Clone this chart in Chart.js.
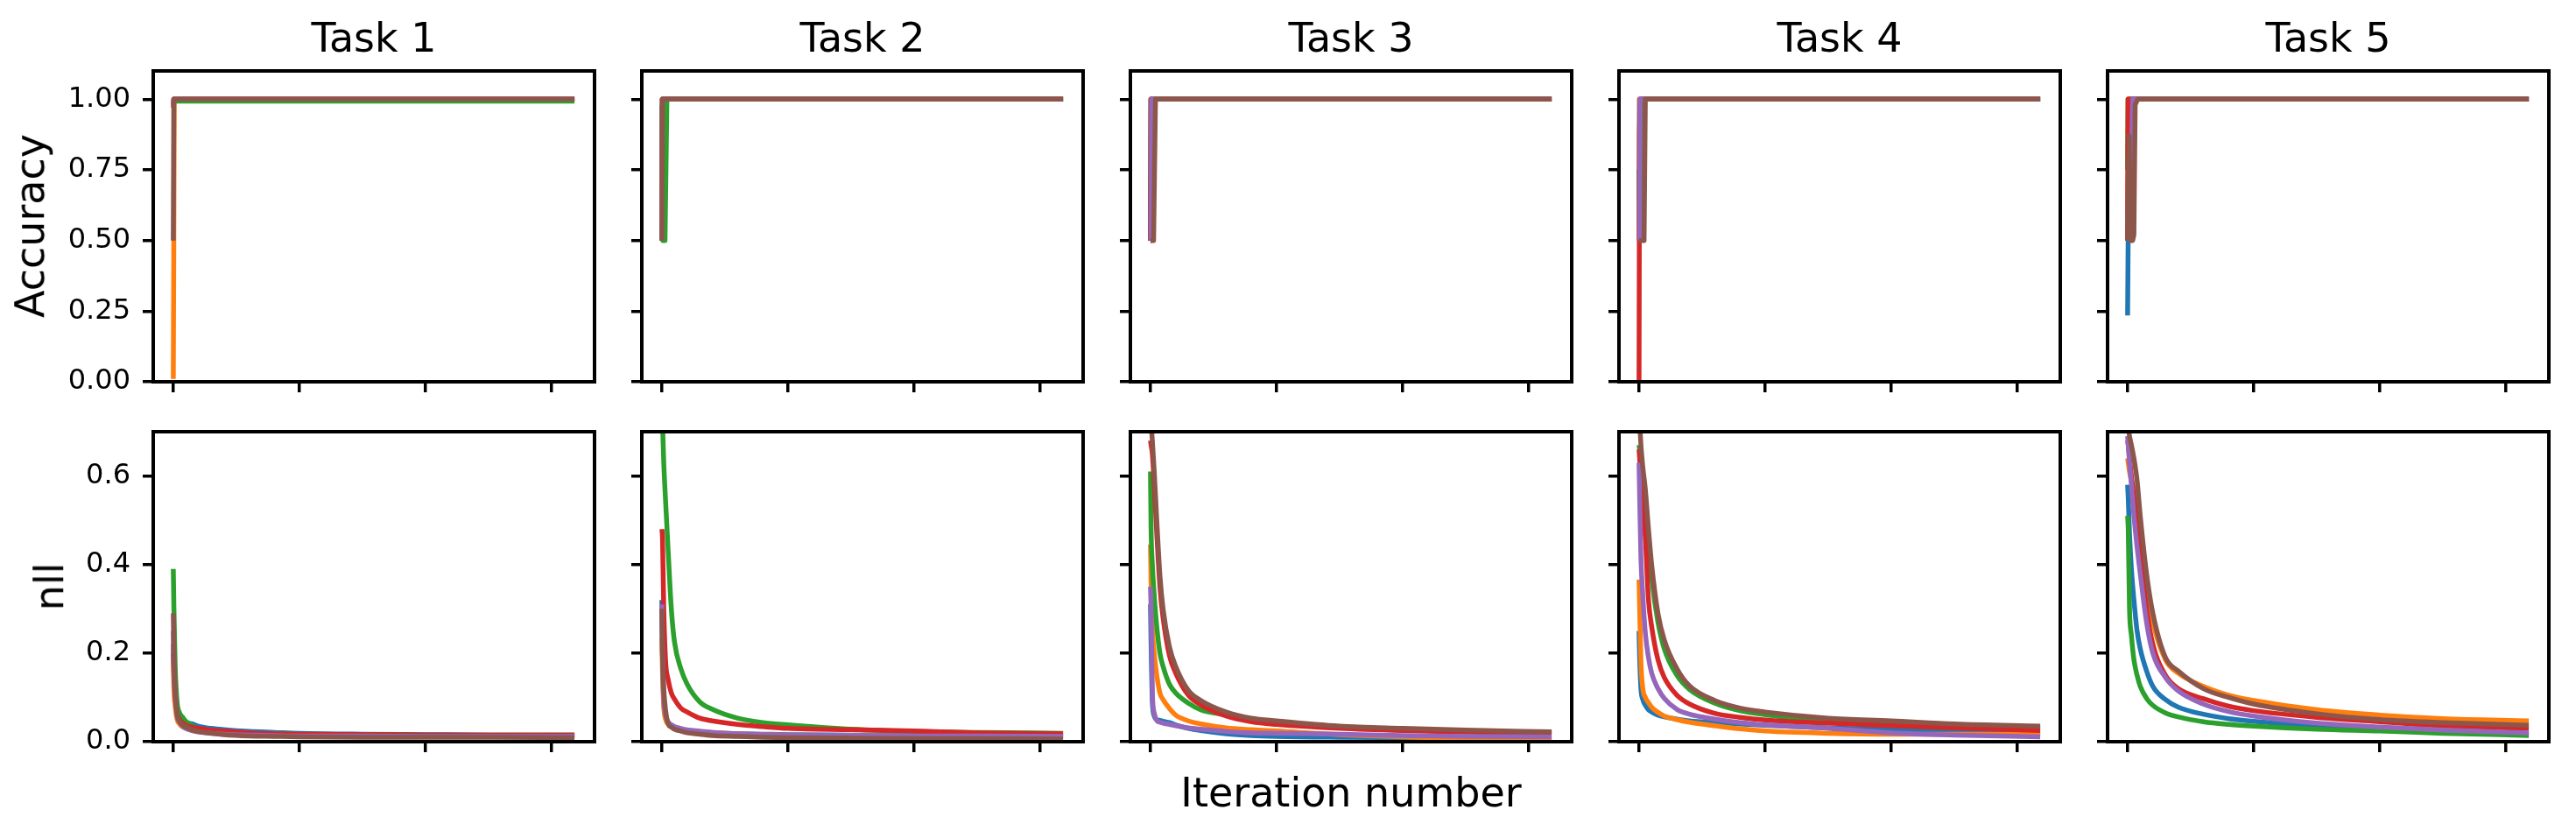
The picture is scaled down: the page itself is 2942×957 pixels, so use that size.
<!DOCTYPE html>
<html lang="en">
<head>
<meta charset="UTF-8">
<title>Accuracy and nll per task</title>
<script src="https://cdn.jsdelivr.net/npm/chart.js"></script>
<style>
  html, body { margin: 0; padding: 0; background: #fff; }
  body { width: 2942px; height: 957px; position: relative; overflow: hidden; font-family: 'DejaVu Sans', sans-serif; }
  .lbl { position: absolute; white-space: nowrap; font-size: 46px; line-height: 1.164; color: #000; }
  .panel { position: absolute; }
</style>
</head>
<body>
<script>
var accIters = [0, 4, 8, 12, 25, 40, 50, 60, 80, 3180];
var nllIters = [0, 5, 15, 30, 50, 75, 100, 150, 200, 300, 400, 600, 800, 1000, 1500, 2000, 2500, 3180];

var taskNames = ['Task 1', 'Task 2', 'Task 3', 'Task 4', 'Task 5'];
var seriesColors = ['#1f77b4', '#ff7f0e', '#2ca02c', '#d62728', '#9467bd', '#8c564b'];

var accTicks = [0, 0.25, 0.5, 0.75, 1.0];
var nllTicks = [0, 0.2, 0.4, 0.6];
var iterTicks = [0, 1000, 2000, 3000];

// accuracy, one row per run (blue, orange, green, red, purple, brown)
var accTask1 = [
  [0.98, 1, 1, 1, 1, 1, 1, 1, 1, 1],
  [0.01, 0.49, 1, 1, 1, 1, 1, 1, 1, 1],
  [0.993, 0.993, 0.993, 0.993, 0.993, 0.993, 0.993, 0.993, 0.993, 0.993],
  [0.97, 1, 1, 1, 1, 1, 1, 1, 1, 1],
  [1, 1, 1, 1, 1, 1, 1, 1, 1, 1],
  [0.5, 1, 1, 1, 1, 1, 1, 1, 1, 1]
];
var accTask2 = [
  [0.5, 1, 1, 1, 1, 1, 1, 1, 1, 1],
  [0.5, 1, 1, 1, 1, 1, 1, 1, 1, 1],
  [0.98, 0.6, 0.5, 0.5, 0.5, 1, 1, 1, 1, 1],
  [0.5, 1, 1, 1, 1, 1, 1, 1, 1, 1],
  [0.5, 1, 1, 1, 1, 1, 1, 1, 1, 1],
  [0.5, 1, 1, 1, 1, 1, 1, 1, 1, 1]
];
var accTask3 = [
  [0.5, 1, 1, 1, 1, 1, 1, 1, 1, 1],
  [0.5, 1, 1, 1, 1, 1, 1, 1, 1, 1],
  [0.5, 1, 1, 1, 1, 1, 1, 1, 1, 1],
  [0.5, 1, 1, 1, 1, 1, 1, 1, 1, 1],
  [0.5, 0.5, 1, 1, 1, 1, 1, 1, 1, 1],
  [0.5, 0.5, 0.5, 0.5, 0.5, 1, 1, 1, 1, 1]
];
var accTask4 = [
  [0.5, 1, 1, 1, 1, 1, 1, 1, 1, 1],
  [0.5, 1, 1, 1, 1, 1, 1, 1, 1, 1],
  [0.75, 0.6, 0.5, 0.5, 1, 1, 1, 1, 1, 1],
  [0.0, 0.88, 1, 1, 1, 1, 1, 1, 1, 1],
  [0.5, 0.5, 1, 1, 1, 1, 1, 1, 1, 1],
  [0.5, 0.5, 0.5, 0.5, 0.5, 0.5, 1, 1, 1, 1]
];
var accTask5 = [
  [0.235, 0.49, 1, 1, 1, 1, 1, 1, 1, 1],
  [0.5, 1, 1, 1, 1, 1, 1, 1, 1, 1],
  [0.75, 1, 1, 1, 1, 1, 1, 1, 1, 1],
  [0.5, 1, 1, 1, 1, 1, 1, 1, 1, 1],
  [0.55, 0.6, 0.62, 0.64, 0.66, 1, 1, 1, 1, 1],
  [0.5, 0.7, 0.8, 0.87, 0.5, 0.5, 0.52, 0.98, 1, 1]
];

// negative log likelihood, same run order
var nllTask1 = [
  [0.2, 0.15, 0.1, 0.065, 0.052, 0.046, 0.043, 0.04, 0.035, 0.03, 0.027, 0.023, 0.021, 0.019, 0.017, 0.016, 0.015, 0.015],
  [0.18, 0.12, 0.08, 0.05, 0.04, 0.033, 0.03, 0.025, 0.022, 0.02, 0.018, 0.016, 0.015, 0.015, 0.014, 0.014, 0.014, 0.014],
  [0.39, 0.3, 0.17, 0.09, 0.065, 0.055, 0.046, 0.036, 0.03, 0.025, 0.022, 0.019, 0.018, 0.017, 0.016, 0.015, 0.015, 0.015],
  [0.22, 0.16, 0.1, 0.065, 0.05, 0.042, 0.037, 0.033, 0.03, 0.026, 0.024, 0.02, 0.018, 0.017, 0.016, 0.015, 0.015, 0.015],
  [0.25, 0.17, 0.11, 0.06, 0.045, 0.035, 0.03, 0.025, 0.022, 0.019, 0.017, 0.015, 0.014, 0.013, 0.013, 0.012, 0.012, 0.012],
  [0.29, 0.2, 0.12, 0.065, 0.045, 0.037, 0.033, 0.027, 0.023, 0.019, 0.016, 0.013, 0.012, 0.011, 0.01, 0.01, 0.01, 0.009]
];
var nllTask2 = [
  [0.32, 0.2, 0.09, 0.055, 0.042, 0.036, 0.032, 0.028, 0.025, 0.022, 0.02, 0.018, 0.017, 0.016, 0.015, 0.014, 0.014, 0.013],
  [0.235, 0.16, 0.08, 0.05, 0.04, 0.035, 0.031, 0.027, 0.025, 0.023, 0.021, 0.018, 0.016, 0.015, 0.014, 0.013, 0.013, 0.012],
  [0.78, 0.72, 0.63, 0.54, 0.43, 0.3, 0.225, 0.165, 0.13, 0.09, 0.073, 0.053, 0.043, 0.038, 0.028, 0.023, 0.021, 0.019],
  [0.48, 0.46, 0.3, 0.18, 0.14, 0.11, 0.096, 0.076, 0.067, 0.053, 0.047, 0.039, 0.034, 0.03, 0.027, 0.024, 0.02, 0.018],
  [0.31, 0.2, 0.1, 0.06, 0.045, 0.038, 0.034, 0.03, 0.027, 0.024, 0.021, 0.018, 0.016, 0.015, 0.014, 0.013, 0.013, 0.012],
  [0.3, 0.2, 0.12, 0.07, 0.04, 0.033, 0.028, 0.024, 0.02, 0.017, 0.014, 0.012, 0.01, 0.009, 0.008, 0.007, 0.007, 0.006]
];
var nllTask3 = [
  [0.31, 0.22, 0.09, 0.058, 0.05, 0.048, 0.046, 0.043, 0.038, 0.03, 0.025, 0.018, 0.014, 0.012, 0.01, 0.009, 0.008, 0.007],
  [0.445, 0.36, 0.26, 0.2, 0.15, 0.11, 0.095, 0.075, 0.06, 0.047, 0.04, 0.031, 0.027, 0.024, 0.016, 0.011, 0.007, 0.005],
  [0.61, 0.48, 0.4, 0.33, 0.26, 0.2, 0.17, 0.13, 0.11, 0.087, 0.072, 0.06, 0.047, 0.042, 0.034, 0.027, 0.022, 0.018],
  [0.68, 0.67, 0.65, 0.58, 0.47, 0.35, 0.28, 0.195, 0.155, 0.105, 0.083, 0.058, 0.045, 0.039, 0.03, 0.025, 0.022, 0.018],
  [0.35, 0.3, 0.11, 0.065, 0.048, 0.044, 0.042, 0.039, 0.036, 0.031, 0.028, 0.023, 0.02, 0.019, 0.017, 0.014, 0.012, 0.011],
  [0.75, 0.72, 0.68, 0.61, 0.5, 0.376, 0.3, 0.215, 0.17, 0.116, 0.093, 0.067, 0.053, 0.047, 0.035, 0.03, 0.026, 0.022]
];
var nllTask4 = [
  [0.25, 0.19, 0.12, 0.095, 0.082, 0.072, 0.067, 0.06, 0.056, 0.051, 0.047, 0.043, 0.04, 0.037, 0.031, 0.027, 0.024, 0.021],
  [0.366, 0.3, 0.18, 0.12, 0.1, 0.088, 0.078, 0.066, 0.058, 0.05, 0.044, 0.036, 0.029, 0.024, 0.019, 0.017, 0.017, 0.017],
  [0.67, 0.66, 0.64, 0.6, 0.54, 0.45, 0.37, 0.27, 0.21, 0.15, 0.118, 0.087, 0.07, 0.061, 0.048, 0.041, 0.035, 0.03],
  [0.66, 0.64, 0.6, 0.53, 0.46, 0.32, 0.26, 0.185, 0.145, 0.105, 0.085, 0.064, 0.055, 0.049, 0.042, 0.036, 0.031, 0.025],
  [0.63, 0.55, 0.415, 0.33, 0.245, 0.19, 0.155, 0.12, 0.098, 0.073, 0.062, 0.051, 0.043, 0.038, 0.03, 0.02, 0.015, 0.011],
  [0.75, 0.72, 0.67, 0.62, 0.57, 0.48, 0.4, 0.29, 0.23, 0.165, 0.126, 0.093, 0.076, 0.067, 0.053, 0.047, 0.04, 0.035]
];
var nllTask5 = [
  [0.58, 0.55, 0.47, 0.39, 0.32, 0.25, 0.21, 0.16, 0.125, 0.095, 0.078, 0.062, 0.052, 0.046, 0.035, 0.028, 0.023, 0.017],
  [0.64, 0.63, 0.61, 0.59, 0.57, 0.53, 0.47, 0.35, 0.27, 0.185, 0.155, 0.125, 0.105, 0.093, 0.072, 0.06, 0.052, 0.047],
  [0.51, 0.48, 0.3, 0.24, 0.185, 0.15, 0.125, 0.098, 0.082, 0.065, 0.056, 0.045, 0.039, 0.035, 0.028, 0.024, 0.019, 0.014],
  [0.68, 0.67, 0.64, 0.6, 0.55, 0.5, 0.43, 0.3, 0.22, 0.15, 0.12, 0.097, 0.08, 0.07, 0.055, 0.045, 0.036, 0.03],
  [0.69, 0.67, 0.63, 0.58, 0.51, 0.44, 0.38, 0.27, 0.2, 0.145, 0.115, 0.085, 0.068, 0.058, 0.042, 0.033, 0.026, 0.02],
  [0.72, 0.71, 0.69, 0.67, 0.64, 0.59, 0.51, 0.38, 0.29, 0.19, 0.16, 0.12, 0.1, 0.085, 0.063, 0.05, 0.043, 0.037]
];

var accByTask = [accTask1, accTask2, accTask3, accTask4, accTask5];
var nllByTask = [nllTask1, nllTask2, nllTask3, nllTask4, nllTask5];

// page layout (pixels)
var panelLeft = [175, 733, 1291, 1849, 2407];
var panelW = 504;
var rowTop = [81, 493];
var rowH = [355, 354];
var padL = 140, padT = 20, padR = 20, padB = 45;

Chart.defaults.font.family = "'DejaVu Sans', sans-serif";
Chart.defaults.color = '#000';

// matplotlib-style box around each axes
var frame = {
  id: 'frame',
  afterDatasetsDraw: function (chart) {
    var a = chart.chartArea, c = chart.ctx;
    c.save();
    c.strokeStyle = '#000';
    c.lineWidth = 4;
    c.strokeRect(a.left, a.top, a.right - a.left, a.bottom - a.top);
    c.restore();
  }
};

function addText(txt, x, y, rotate) {
  var d = document.createElement('div');
  d.className = 'lbl';
  d.textContent = txt;
  d.style.left = x + 'px';
  d.style.top = y + 'px';
  d.style.transform = rotate ? 'translate(-50%, -50%) rotate(-90deg)' : 'translateX(-50%)';
  document.body.appendChild(d);
}

function makePanel(col, row) {
  var iters = row === 0 ? accIters : nllIters;
  var runs = row === 0 ? accByTask[col] : nllByTask[col];
  var yTicks = row === 0 ? accTicks : nllTicks;
  var digits = row === 0 ? 2 : 1;
  var w = panelW + padL + padR;
  var h = rowH[row] + padT + padB;

  var div = document.createElement('div');
  div.className = 'panel';
  div.style.left = (panelLeft[col] - padL) + 'px';
  div.style.top = (rowTop[row] - padT) + 'px';
  div.style.width = w + 'px';
  div.style.height = h + 'px';
  var canvas = document.createElement('canvas');
  canvas.width = w;
  canvas.height = h;
  canvas.style.width = w + 'px';
  canvas.style.height = h + 'px';
  div.appendChild(canvas);
  document.body.appendChild(div);

  var datasets = runs.map(function (vals, i) {
    return {
      label: 'run ' + (i + 1),
      data: iters.map(function (x, j) { return { x: x, y: vals[j] }; }),
      borderColor: seriesColors[i],
      backgroundColor: seriesColors[i],
      borderWidth: 5.5,
      pointRadius: 0,
      fill: false,
      tension: 0,
      cubicInterpolationMode: row === 1 ? 'monotone' : 'default',
      borderJoinStyle: 'round',
      borderCapStyle: 'butt',
      order: runs.length - i   // later runs drawn on top, like matplotlib
    };
  });

  var tickGrid = { drawOnChartArea: false, drawTicks: true, tickLength: 12, color: '#000', lineWidth: 3.5 };

  new Chart(canvas.getContext('2d'), {
    type: 'line',
    data: { datasets: datasets },
    options: {
      responsive: false,
      animation: false,
      events: [],
      layout: { padding: { left: 0, top: padT, right: padR, bottom: 0 } },
      plugins: { legend: { display: false }, tooltip: { enabled: false }, title: { display: false } },
      scales: {
        x: {
          type: 'linear',
          min: -159,
          max: 3339,
          afterBuildTicks: function (s) { s.ticks = iterTicks.map(function (v) { return { value: v }; }); },
          afterFit: function (s) { s.height = padB; s.paddingLeft = 0; s.paddingRight = 0; },
          ticks: { display: false },
          grid: tickGrid,
          border: { display: false }
        },
        y: {
          type: 'linear',
          min: 0,
          max: row === 0 ? 1.1 : 0.7,
          afterBuildTicks: function (s) { s.ticks = yTicks.map(function (v) { return { value: v }; }); },
          afterFit: function (s) { s.width = padL; s.paddingTop = 0; s.paddingBottom = 0; },
          ticks: {
            padding: 14,
            font: { size: 32 },
            color: '#000',
            callback: function (v) { return col === 0 ? Number(v).toFixed(digits) : ''; }
          },
          grid: tickGrid,
          border: { display: false }
        }
      }
    },
    plugins: [frame]
  });
}

for (var col = 0; col < 5; col++) {
  makePanel(col, 0);
  makePanel(col, 1);
  addText(taskNames[col], panelLeft[col] + panelW / 2, 17);
}
addText('Accuracy', 35, 258, true);
addText('nll', 57, 670, true);
addText('Iteration number', 1543, 879, false);
</script>
</body>
</html>
